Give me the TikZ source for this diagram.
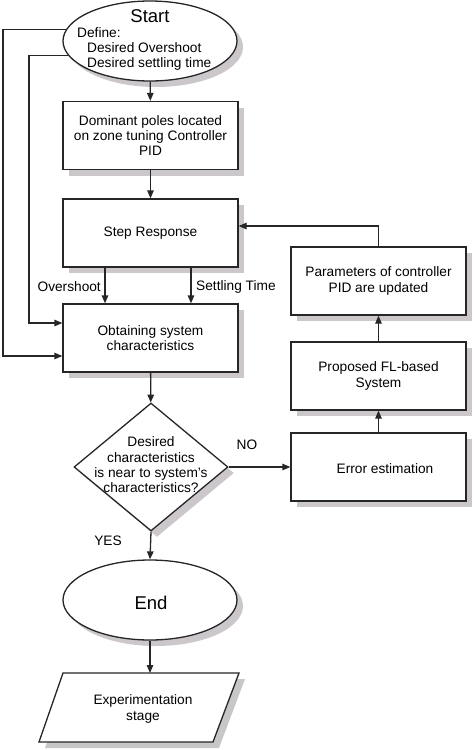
\documentclass[tikz,border=0pt]{standalone}
\usepackage{fontspec}
\setmainfont{Liberation Sans}
\usetikzlibrary{positioning,calc,shapes.geometric,shadows,arrows.meta}
\colorlet{linegray}{black!85}
\colorlet{shadowgray}{violet!15!black!22}

\begin{document}
\begin{tikzpicture}[x=1pt,y=-1pt,
    txt/.style={font=\fontsize{13.7pt}{15.3pt}\selectfont, align=center, inner sep=0pt},
    bigtxt/.style={font=\fontsize{18.5pt}{20pt}\selectfont, inner sep=0pt},
    castshadow/.style={drop shadow={shadow xshift=6pt, shadow yshift=-6pt, fill=shadowgray, opacity=1}},
    procbox/.style={draw=linegray, line width=1.3pt, fill=white, castshadow, minimum width=175pt, minimum height=68pt, inner sep=0pt},
    termbox/.style={ellipse, draw=linegray, line width=1.3pt, fill=white, castshadow, minimum width=174pt, minimum height=80pt, inner sep=0pt},
    arrow/.style={draw=linegray, line width=1.3pt, -{Triangle[length=8pt,width=6.5pt]}}]
      \useasboundingbox (0,0) rectangle (474,750);
      % Start / define
      \node[termbox] (start) at (150,41) {};
      \node[bigtxt] (starttxt) at (150,16) {Start};
      \node[txt, align=left, anchor=north west] (define) at (77,27) {Define:\\\hspace{10pt}Desired Overshoot\\\hspace{10pt}Desired settling time};
      % Left column
      \node[procbox, txt] (dominant) at (150.5,135.5) {Dominant poles located\\on zone tuning Controller\\PID};
      \node[procbox, txt] (step) at (150.5,233) {Step Response};
      \node[procbox, txt] (obtain) at (150.5,338) {Obtaining system\\characteristics};
      \node[diamond, draw=linegray, line width=1.3pt, fill=white, castshadow, minimum width=154pt, minimum height=128pt, inner sep=0pt] (decide) at (151,467) {};
      \node[txt] (decidetxt) at (151,465) {Desired\\characteristics\\is near to system's\\characteristics?};
      \node[termbox] (end) at (150,600) {};
      \node[bigtxt] (endtxt) at (151,603) {End};
      % Experimentation stage (parallelogram)
      \fill[black!22] (69,679) -- (245,679) -- (219,748) -- (45,748) -- cycle;
      \draw[linegray, line width=1.3pt, fill=white] (63,673) -- (239,673) -- (213,742) -- (39,742) -- cycle;
      \coordinate (exptop) at (150,673);
      \node[txt] (exptxt) at (143,709) {Experimentation\\stage};
      % Right column
      \node[procbox, txt] (params) at (378.5,281) {Parameters of controller\\PID are updated};
      \node[procbox, txt] (flsys) at (378.5,376) {Proposed FL-based\\System};
      \node[procbox] (error) at (378.5,467) {};
      \node[txt] (errortxt) at (385,469) {Error estimation};
      % Connectors
      \coordinate (outer) at (3,0);
      \coordinate (inner) at (29,0);
      \draw[arrow] (start) -- (dominant);
      \draw[arrow] (dominant) -- (step);
      \draw[arrow] ([xshift=-45.5pt]step.south) -- ([xshift=-45.5pt]obtain.north);
      \draw[arrow] ([xshift=40.5pt]step.south) -- ([xshift=40.5pt]obtain.north);
      \node[txt, anchor=east] (overshoot) at (101,287) {Overshoot};
      \node[txt, anchor=west] (settling) at (196,287) {Settling Time};
      \draw[arrow] (start.172) -- (start.172 -| outer) |- ([yshift=-18pt]obtain.west);
      \draw[arrow] (start.190) -- (start.190 -| inner) |- ([yshift=15pt]obtain.west);
      \draw[arrow] (obtain) -- (decide);
      \draw[arrow] (decide.east) -- (error.west);
      \node[txt] (no) at (247,445) {NO};
      \draw[arrow] (error) -- (flsys);
      \draw[arrow] (flsys) -- (params);
      \draw[arrow] (params.north) |- ([yshift=7pt]step.east);
      \draw[arrow] (decide.south) -- (end.north);
      \node[txt] (yes) at (108,541) {YES};
      \draw[arrow] (end.south) -- (exptop);
    \end{tikzpicture}
\end{document}
